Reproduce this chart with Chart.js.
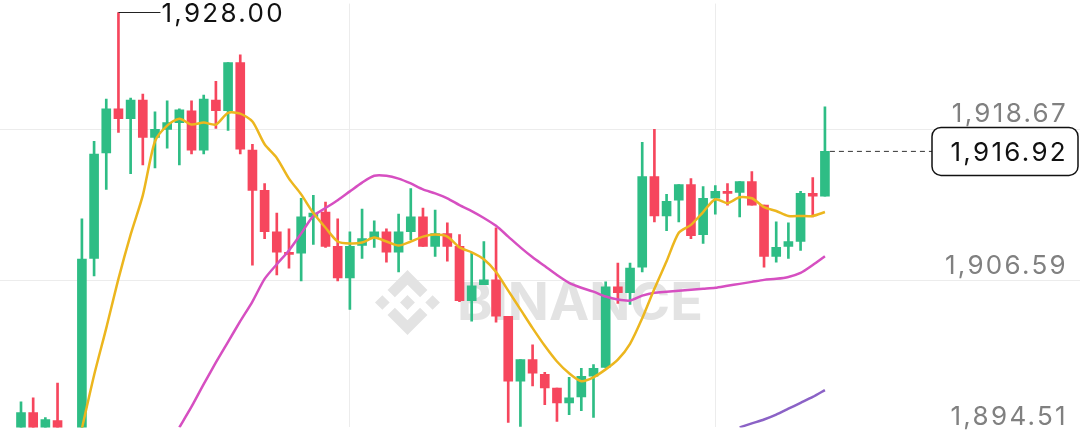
<!DOCTYPE html>
<html>
<head>
<meta charset="utf-8">
<script src="https://cdn.jsdelivr.net/npm/chart.js@4.4.0/dist/chart.umd.min.js"></script>
<style>
  html, body { margin: 0; padding: 0; background: #fff; }
  #wrap { width: 1080px; height: 431px; }
</style>
</head>
<body>
<div id="wrap"><canvas id="kline" width="1080" height="431"></canvas></div>
<script>
// candles, one per slot (slot 4 sits below the visible range)
const opens  = [1894.35, 1896.08, 1894.67, 1895.45, null, 1892.63, 1908.39, 1916.79, 1920.32, 1919.53,
  1921.02, 1918.04, 1918.67, 1919.22, 1920.16, 1917.02, 1921.02, 1920.16, 1924.00, 1917.02,
  1913.81, 1910.51, 1908.87, 1908.79, 1911.69, 1912.08, 1909.34, 1906.83, 1909.41, 1909.96,
  1910.51, 1908.87, 1910.51, 1911.69, 1909.34, 1910.36, 1909.34, 1905.02, 1906.28, 1906.67,
  1903.77, 1898.59, 1900.31, 1899.14, 1898.04, 1896.86, 1897.33, 1898.98, 1899.69, 1906.12,
  1905.65, 1907.69, 1914.90, 1911.77, 1913.02, 1914.28, 1910.28, 1913.18, 1913.73, 1913.65,
  1914.51, 1912.63, 1908.55, 1909.34, 1909.73, 1913.57, 1913.34];
const highs  = [1896.94, 1897.26, 1895.69, 1898.43, null, 1911.53, 1917.73, 1921.10, 1928.00, 1921.18,
  1921.49, 1920.08, 1920.95, 1920.32, 1920.95, 1921.42, 1922.51, 1924.00, 1924.63, 1917.49,
  1914.36, 1912.00, 1910.75, 1913.18, 1913.41, 1912.87, 1911.53, 1910.51, 1912.32, 1911.38,
  1910.75, 1911.92, 1913.96, 1912.40, 1912.24, 1911.22, 1910.28, 1908.87, 1909.73, 1910.83,
  1903.77, 1900.31, 1901.49, 1899.29, 1898.04, 1898.90, 1899.61, 1899.92, 1906.51, 1908.00,
  1908.00, 1917.65, 1918.67, 1913.49, 1914.28, 1914.75, 1914.12, 1914.20, 1914.36, 1914.51,
  1915.30, 1912.63, 1911.30, 1911.22, 1913.73, 1914.83, 1920.47];
const lows   = [1894.04, 1894.20, 1894.20, 1893.80, null, 1892.20, 1906.98, 1913.89, 1918.44, 1915.14,
  1915.85, 1915.61, 1917.18, 1915.85, 1916.71, 1916.71, 1918.75, 1918.59, 1916.71, 1907.85,
  1909.96, 1907.06, 1907.61, 1906.59, 1909.49, 1909.26, 1906.59, 1904.32, 1908.39, 1909.26,
  1908.08, 1907.30, 1909.88, 1909.34, 1908.55, 1908.16, 1904.94, 1903.37, 1906.28, 1903.30,
  1895.29, 1894.98, 1898.20, 1896.71, 1895.37, 1895.92, 1896.24, 1895.69, 1899.69, 1904.79,
  1904.71, 1907.30, 1911.30, 1910.59, 1911.30, 1909.96, 1909.57, 1911.92, 1912.63, 1911.69,
  1912.63, 1907.69, 1908.08, 1908.39, 1909.02, 1911.69, 1913.34];
const closes = [1896.08, 1894.51, 1895.53, 1894.10, null, 1908.32, 1916.71, 1920.32, 1919.53, 1921.02,
  1918.04, 1918.67, 1919.22, 1920.24, 1917.02, 1921.10, 1920.16, 1924.00, 1917.10, 1913.81,
  1910.51, 1908.87, 1908.71, 1911.69, 1912.00, 1909.34, 1906.83, 1909.34, 1909.96, 1910.51,
  1908.87, 1910.51, 1911.69, 1909.34, 1910.36, 1909.34, 1905.02, 1906.20, 1906.67, 1903.77,
  1898.59, 1900.31, 1899.22, 1898.04, 1896.86, 1897.26, 1898.98, 1899.61, 1906.12, 1905.65,
  1907.61, 1914.90, 1911.77, 1912.94, 1914.28, 1910.20, 1913.18, 1913.73, 1913.57, 1914.51,
  1912.63, 1908.55, 1909.26, 1909.73, 1913.57, 1913.34, 1916.92];

// moving averages, each starting at the slot where it enters the view
const ma7Start = 5;
const ma7 = [1894.82, 1899.06, 1902.82, 1906.75, 1910.28, 1913.41, 1917.73, 1918.98, 1919.53, 1919.06,
  1919.22, 1919.06, 1920.00, 1919.93, 1919.30, 1917.49, 1916.40, 1914.75, 1913.49, 1912.00,
  1910.83, 1909.73, 1909.57, 1909.65, 1910.04, 1909.73, 1909.41, 1909.73, 1910.12, 1910.28,
  1910.12, 1909.26, 1908.87, 1908.32, 1907.30, 1905.81, 1904.32, 1902.82, 1901.41, 1900.16,
  1899.22, 1898.59, 1898.90, 1899.53, 1900.31, 1901.57, 1903.61, 1905.96, 1908.16, 1910.43,
  1911.06, 1912.08, 1913.10, 1912.79, 1913.26, 1913.18, 1912.47, 1912.16, 1911.77, 1911.77,
  1911.77, 1912.08];
const ma25Start = 13;
const ma25 = [1894.90, 1896.55, 1898.35, 1900.08, 1901.73, 1903.37, 1904.94, 1906.75, 1907.92, 1909.02,
  1910.36, 1911.77, 1912.40, 1913.02, 1913.73, 1914.43, 1914.98, 1914.98, 1914.75, 1914.36,
  1913.89, 1913.57, 1913.18, 1912.63, 1912.16, 1911.61, 1910.98, 1910.12, 1909.26, 1908.47,
  1907.77, 1907.06, 1906.43, 1906.04, 1905.73, 1905.34, 1905.10, 1905.02, 1905.41, 1905.65,
  1905.73, 1905.81, 1905.88, 1905.96, 1906.04, 1906.20, 1906.35, 1906.51, 1906.67, 1906.75,
  1906.90, 1907.22, 1907.85, 1908.55];
const ma99Start = 59;
const ma99 = [1894.90, 1895.22, 1895.53, 1895.92, 1896.39, 1896.86, 1897.33, 1897.88];

const priceTicks = [1894.51, 1906.59, 1918.67];
const timeGrid = [27, 57];

const GREEN = '#2ebd85';
const RED = '#f6465d';
const FONT = 'Inter, "Open Sans", sans-serif';
const SPACING = '2.3px'; // the app font is wider than anything installed

const fmt = v => v.toLocaleString('en-US', { minimumFractionDigits: 2, maximumFractionDigits: 2 });

const wickData = [], bodyData = [], candleColors = [];
for (let i = 0; i < opens.length; i++) {
  if (opens[i] === null) continue;
  wickData.push({ x: i, y: [lows[i], highs[i]] });
  bodyData.push({ x: i, y: [opens[i], closes[i]] });
  candleColors.push(closes[i] >= opens[i] ? GREEN : RED);
}
const toLine = (start, arr) => arr.map((v, k) => ({ x: start + k, y: v }));

// binance diamond mark, in its own 126.6 unit box
const logo = new Path2D(
  'M38.73,53.2L63.3,28.63L87.9,53.22L102.2,38.92L63.3,0L24.42,38.9Z' +
  'M0,63.31L14.3,49.01L28.6,63.31L14.3,77.61Z' +
  'M38.73,73.41L63.3,97.98L87.9,73.39L102.2,87.68L63.3,126.61L24.41,87.7Z' +
  'M98,63.31L112.3,49.01L126.6,63.31L112.3,77.61Z' +
  'M77.83,63.3L63.3,48.78L48.79,63.28L63.3,77.82Z');

const overlay = {
  id: 'overlay',
  beforeDraw(chart) {
    chart.ctx.letterSpacing = SPACING;
  },
  beforeDatasetsDraw(chart) {
    const ctx = chart.ctx;
    ctx.save();
    ctx.fillStyle = '#e3e3e3';
    ctx.translate(375, 270);
    ctx.scale(0.513, 0.513);
    ctx.fill(logo);
    ctx.restore();

    ctx.save();
    ctx.letterSpacing = '0px';
    ctx.fillStyle = '#e3e3e3';
    ctx.font = 'bold 52px ' + FONT;
    const w = ctx.measureText('BINANCE').width;
    ctx.translate(457, 320);
    ctx.scale(246 / w, 1);
    ctx.textBaseline = 'alphabetic';
    ctx.fillText('BINANCE', 0, 0);
    ctx.restore();
  },
  afterDatasetsDraw(chart) {
    const ctx = chart.ctx;
    const xs = chart.scales.x, ys = chart.scales.y;

    // highest high marker
    let hi = 0;
    highs.forEach((v, i) => { if (v !== null && v > highs[hi]) hi = i; });
    const hx = xs.getPixelForValue(hi), hy = ys.getPixelForValue(highs[hi]);
    ctx.save();
    ctx.strokeStyle = '#222';
    ctx.lineWidth = 1.2;
    ctx.beginPath();
    ctx.moveTo(hx, hy);
    ctx.lineTo(hx + 42, hy);
    ctx.stroke();
    ctx.fillStyle = '#111';
    ctx.font = '26px ' + FONT;
    ctx.textBaseline = 'middle';
    ctx.fillText(fmt(highs[hi]), hx + 43, hy + 2);
    ctx.restore();

    // last price line and tag
    const last = closes.length - 1;
    const ly = ys.getPixelForValue(closes[last]);
    const lx = xs.getPixelForValue(last) + 5;
    ctx.save();
    ctx.font = '26px ' + FONT;
    const label = fmt(closes[last]);
    const right = 1068;
    const boxL = 932, boxR = 1078, boxT = ly - 24, boxB = ly + 24;
    ctx.strokeStyle = '#333';
    ctx.lineWidth = 1;
    ctx.setLineDash([5, 4]);
    ctx.beginPath();
    ctx.moveTo(lx, ly);
    ctx.lineTo(boxL, ly);
    ctx.stroke();
    ctx.setLineDash([]);
    ctx.beginPath();
    ctx.roundRect(boxL, boxT, boxR - boxL, boxB - boxT, 9);
    ctx.fillStyle = '#fff';
    ctx.fill();
    ctx.lineWidth = 1.5;
    ctx.strokeStyle = '#111';
    ctx.stroke();
    ctx.fillStyle = '#111';
    ctx.textAlign = 'right';
    ctx.textBaseline = 'middle';
    ctx.fillText(label, right, ly + 2);
    ctx.restore();
  }
};

new Chart(document.getElementById('kline'), {
  type: 'bar',
  data: {
    datasets: [
      { type: 'line', data: toLine(ma7Start, ma7), borderColor: '#ecb61e', borderWidth: 2.5,
        pointRadius: 0, tension: 0.25, order: 0 },
      { type: 'line', data: toLine(ma25Start, ma25), borderColor: '#d64fc1', borderWidth: 2.5,
        pointRadius: 0, tension: 0.25, order: 0 },
      { type: 'line', data: toLine(ma99Start, ma99), borderColor: '#8b62c6', borderWidth: 2.5,
        pointRadius: 0, tension: 0.25, order: 0 },
      { data: bodyData, backgroundColor: candleColors, barThickness: 9, minBarLength: 2,
        grouped: false, order: 1 },
      { data: wickData, backgroundColor: candleColors, barThickness: 2,
        grouped: false, order: 2 }
    ]
  },
  options: {
    responsive: false,
    animation: false,
    layout: { padding: 0, autoPadding: false },
    plugins: { legend: { display: false }, tooltip: { enabled: false } },
    scales: {
      x: {
        type: 'linear',
        offset: false,
        min: -1.724,
        max: 86.94,
        afterBuildTicks: s => { s.ticks = timeGrid.map(v => ({ value: v })); },
        grid: { color: '#ececec', drawTicks: false, offset: false },
        border: { display: false },
        ticks: { display: false }
      },
      y: {
        position: 'right',
        min: 1894.90,
        max: 1928.71,
        afterBuildTicks: s => { s.ticks = priceTicks.map(v => ({ value: v })); },
        grid: { color: '#ececec', drawTicks: false },
        border: { display: false },
        ticks: {
          mirror: true,
          padding: -12,
          labelOffset: -15,
          color: '#808080',
          font: { family: FONT, size: 26 },
          callback: v => fmt(v)
        }
      }
    }
  },
  plugins: [overlay]
});
</script>
</body>
</html>
